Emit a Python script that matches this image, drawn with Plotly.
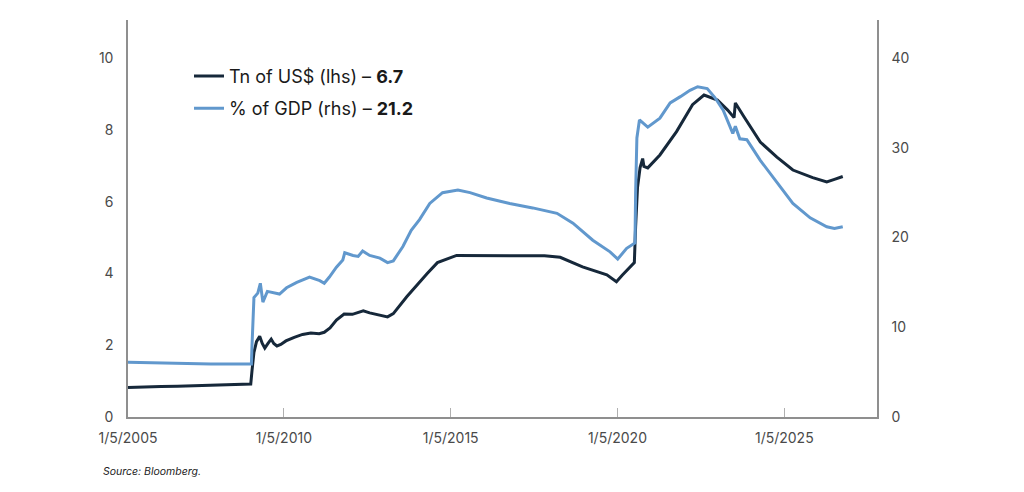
import plotly.graph_objects as go

# ---- Data ----
usd_dates = [
    "2005-01-05", "2005-07-01", "2006-01-01", "2006-07-01", "2007-01-01", "2007-07-01",
    "2008-01-01", "2008-06-01", "2008-09-10", "2008-09-24", "2008-10-15", "2008-11-12",
    "2008-12-17", "2009-01-14", "2009-02-11", "2009-03-18", "2009-04-22", "2009-05-20",
    "2009-06-24", "2009-08-05", "2009-09-30", "2009-12-30", "2010-03-31", "2010-06-30",
    "2010-09-29", "2010-11-24", "2011-01-26", "2011-04-06", "2011-06-29", "2011-09-28",
    "2011-12-28", "2012-01-25", "2012-04-04", "2012-07-04", "2012-10-17", "2012-12-19",
    "2013-05-15", "2013-12-25", "2014-04-16", "2014-11-12", "2015-06-01", "2016-01-01",
    "2016-07-01", "2017-01-01", "2017-07-01", "2017-12-20", "2018-08-22", "2019-05-15",
    "2019-08-28", "2019-10-30", "2020-01-22", "2020-03-11", "2020-03-25", "2020-04-15",
    "2020-05-13", "2020-06-10", "2020-06-24", "2020-08-05", "2020-12-16", "2021-06-16",
    "2021-12-08", "2022-04-13", "2022-09-07", "2022-12-28", "2023-03-08", "2023-03-22",
    "2023-06-28", "2023-12-20", "2024-06-19", "2024-12-11", "2025-07-16", "2025-12-17",
    "2026-03-11", "2026-06-10",
]
usd_tn = [
    0.82, 0.84, 0.85, 0.86, 0.87, 0.88,
    0.89, 0.90, 0.92, 1.30, 1.80, 2.10,
    2.25, 2.05, 1.92, 2.05, 2.17, 2.05,
    1.98, 2.02, 2.12, 2.22, 2.30, 2.34,
    2.32, 2.36, 2.48, 2.70, 2.87, 2.86,
    2.93, 2.96, 2.90, 2.85, 2.79, 2.88,
    3.35, 4.00, 4.30, 4.50, 4.50, 4.49,
    4.48, 4.48, 4.49, 4.45, 4.18, 3.96,
    3.77, 3.95, 4.17, 4.30, 5.30, 6.40,
    6.95, 7.20, 6.98, 6.94, 7.30, 7.95,
    8.70, 8.97, 8.83, 8.55, 8.34, 8.75,
    8.35, 7.66, 7.24, 6.88, 6.67, 6.55,
    6.62, 6.70,
]

gdp_dates = [
    "2005-01-05", "2005-07-01", "2006-01-01", "2006-07-01", "2007-01-01", "2007-07-01",
    "2008-01-01", "2008-07-01", "2008-09-17", "2008-09-24", "2008-10-15", "2008-11-26",
    "2008-12-24", "2009-01-21", "2009-03-11", "2009-07-22", "2009-10-07", "2010-01-27",
    "2010-06-16", "2010-10-06", "2010-11-24", "2011-01-19", "2011-04-06", "2011-06-15",
    "2011-07-06", "2011-10-05", "2011-11-30", "2012-01-18", "2012-04-04", "2012-07-25",
    "2012-10-17", "2012-12-19", "2013-04-03", "2013-07-03", "2013-10-02", "2014-01-22",
    "2014-06-11", "2014-11-26", "2015-04-08", "2015-10-07", "2016-06-15", "2017-02-22",
    "2017-11-15", "2018-05-09", "2018-12-12", "2019-06-19", "2019-09-11", "2019-12-18",
    "2020-02-26", "2020-03-18", "2020-03-25", "2020-04-08", "2020-05-06", "2020-08-05",
    "2020-12-16", "2021-04-07", "2021-07-28", "2021-11-10", "2022-02-02", "2022-05-18",
    "2022-08-10", "2022-11-09", "2023-02-22", "2023-03-22", "2023-05-10", "2023-07-26",
    "2023-12-20", "2024-06-19", "2024-12-11", "2025-06-18", "2025-12-17", "2026-03-11",
    "2026-06-10",
]
gdp_pct = [
    6.1, 6.05, 6.0, 6.0, 5.95, 5.9,
    5.9, 5.9, 5.9, 8.0, 13.3, 13.8,
    14.9, 12.8, 14.0, 13.7, 14.4, 15.0,
    15.6, 15.2, 14.9, 15.6, 16.7, 17.5,
    18.3, 18.0, 17.9, 18.5, 18.0, 17.7,
    17.2, 17.4, 19.0, 20.8, 22.0, 23.8,
    25.0, 25.3, 25.0, 24.4, 23.8, 23.3,
    22.7, 21.6, 19.7, 18.4, 17.6, 18.8,
    19.2, 19.4, 25.0, 31.1, 33.1, 32.3,
    33.3, 35.0, 35.7, 36.4, 36.8, 36.6,
    35.6, 34.2, 31.6, 32.4, 31.0, 30.9,
    28.6, 26.1, 23.8, 22.2, 21.2, 21.0,
    21.2,
]

x_tick_vals = ["2005-01-05", "2009-09-08", "2014-09-08", "2019-09-08", "2024-09-08"]
x_tick_text = ["1/5/2005", "1/5/2010", "1/5/2015", "1/5/2020", "1/5/2025"]
x_range = ["2005-01-05", "2027-06-20"]
lhs_ticks = [0, 2, 4, 6, 8, 10]
rhs_ticks = [0, 10, 20, 30, 40]

DARK = "#16283a"
BLUE = "#6198cd"
AXIS = "#8f8f8f"
TICKTXT = "#4a4a4a"
FONT = "Inter, Roboto, sans-serif"

fig = go.Figure()
fig.add_trace(go.Scatter(
    x=gdp_dates, y=gdp_pct, mode="lines", yaxis="y2",
    name="% of GDP (rhs) – <b>21.2</b>", legendrank=2, legendgroup="b",
    line=dict(color=BLUE, width=3),
))
fig.add_trace(go.Scatter(
    x=usd_dates, y=usd_tn, mode="lines", yaxis="y",
    name="Tn of US$ (lhs) – <b>6.7</b>", legendrank=1, legendgroup="a",
    line=dict(color=DARK, width=3),
))

fig.update_layout(
    width=1024, height=492,
    margin=dict(l=128, r=147, t=20, b=75),
    paper_bgcolor="white", plot_bgcolor="white",
    font=dict(family=FONT, color=TICKTXT, size=14),
    showlegend=True,
    legend=dict(
        x=(189 - 128) / 749, y=0.905, xanchor="left", yanchor="top",
        font=dict(family=FONT, size=18, color="#1a1a1a"),
        bgcolor="rgba(0,0,0,0)", traceorder="grouped", tracegroupgap=6,
    ),
    xaxis=dict(
        type="date", range=x_range,
        tickvals=x_tick_vals, ticktext=x_tick_text,
        ticks="inside", ticklen=9, tickwidth=1, tickcolor="#b0b0b0",
        showline=True, linecolor=AXIS, linewidth=1.5,
        showgrid=False, zeroline=False,
        ticklabelstandoff=7,
        tickfont=dict(size=14, color=TICKTXT),
    ),
    yaxis=dict(
        range=[0, 11.06], tickvals=lhs_ticks,
        showline=True, linecolor=AXIS, linewidth=1.5,
        showgrid=False, zeroline=False, ticks="",
        ticklabelstandoff=10,
        tickfont=dict(size=14, color=TICKTXT),
    ),
    yaxis2=dict(
        range=[0, 44.24], tickvals=rhs_ticks, overlaying="y", side="right",
        showline=True, linecolor=AXIS, linewidth=1.5,
        showgrid=False, zeroline=False, ticks="",
        ticklabelstandoff=10,
        tickfont=dict(size=14, color=TICKTXT),
    ),
    annotations=[dict(
        text="<i>Source: Bloomberg.</i>", xref="paper", yref="paper",
        x=(101 - 128) / 749, y=-(471 - 417) / 397, xanchor="left", yanchor="middle",
        showarrow=False, font=dict(family=FONT, size=10.5, color="#222222"),
    )],
)

fig.write_html("out.html")
